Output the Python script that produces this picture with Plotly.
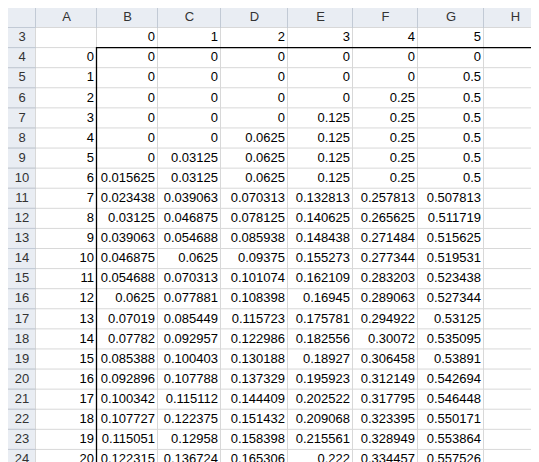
import plotly.graph_objects as go
import numpy as np

col_letters = ["", "A", "B", "C", "D", "E", "F", "G", "H"]
row_numbers = [str(i) for i in range(3, 25)]
col_A = [""] + [str(i) for i in range(0, 21)]
col_B = ["0", "0", "0", "0", "0", "0", "0", "0.015625", "0.023438", "0.03125", "0.039063", "0.046875", "0.054688", "0.0625", "0.07019", "0.07782", "0.085388", "0.092896", "0.100342", "0.107727", "0.115051", "0.122315"]
col_C = ["1", "0", "0", "0", "0", "0", "0.03125", "0.03125", "0.039063", "0.046875", "0.054688", "0.0625", "0.070313", "0.077881", "0.085449", "0.092957", "0.100403", "0.107788", "0.115112", "0.122375", "0.12958", "0.136724"]
col_D = ["2", "0", "0", "0", "0", "0.0625", "0.0625", "0.0625", "0.070313", "0.078125", "0.085938", "0.09375", "0.101074", "0.108398", "0.115723", "0.122986", "0.130188", "0.137329", "0.144409", "0.151432", "0.158398", "0.165306"]
col_E = ["3", "0", "0", "0", "0.125", "0.125", "0.125", "0.125", "0.132813", "0.140625", "0.148438", "0.155273", "0.162109", "0.16945", "0.175781", "0.182556", "0.18927", "0.195923", "0.202522", "0.209068", "0.215561", "0.222"]
col_F = ["4", "0", "0", "0.25", "0.25", "0.25", "0.25", "0.25", "0.257813", "0.265625", "0.271484", "0.277344", "0.283203", "0.289063", "0.294922", "0.30072", "0.306458", "0.312149", "0.317795", "0.323395", "0.328949", "0.334457"]
col_G = ["5", "0", "0.5", "0.5", "0.5", "0.5", "0.5", "0.5", "0.507813", "0.511719", "0.515625", "0.519531", "0.523438", "0.527344", "0.53125", "0.535095", "0.53891", "0.542694", "0.546448", "0.550171", "0.553864", "0.557526"]
col_H = ["6"] + ["1"] * 21
data_cols = [col_A, col_B, col_C, col_D, col_E, col_F, col_G, col_H]

col_widths_px = [28, 61, 61, 63, 67, 65, 65, 66, 63]
W, H = 539, 462
header_h = 20
n_rows = len(row_numbers)
row_h = (H - header_h) / n_rows

xe = np.concatenate([[0], np.cumsum(col_widths_px)])
ye = header_h + row_h * np.arange(n_rows + 1)
ye = np.concatenate([[0], ye])
yc = (ye[1:-1] + ye[2:]) / 2

hdr_fill = "#E9EDF3"
grid = "#D8D8D8"
hdr_line = "#C2CAD5"
font = dict(family="Liberation Sans", size=13, color="black")

fig = go.Figure()
shapes = []
# header fills
shapes.append(dict(type="rect", x0=0, x1=W, y0=0, y1=header_h, fillcolor=hdr_fill, line_width=0, layer="below"))
shapes.append(dict(type="rect", x0=0, x1=xe[1], y0=0, y1=H, fillcolor=hdr_fill, line_width=0, layer="below"))
# grid lines
for x in xe[1:]:
    shapes.append(dict(type="line", x0=x - 0.5, x1=x - 0.5, y0=0, y1=H, line=dict(color=grid, width=1)))
for y in ye[1:]:
    shapes.append(dict(type="line", x0=0, x1=W, y0=y - 0.5, y1=y - 0.5, line=dict(color=grid, width=1)))
# header separators
for x in xe[1:]:
    shapes.append(dict(type="line", x0=x - 0.5, x1=x - 0.5, y0=0, y1=header_h, line=dict(color=hdr_line, width=1)))
for y in ye[1:]:
    shapes.append(dict(type="line", x0=0, x1=xe[1], y0=y - 0.5, y1=y - 0.5, line=dict(color=hdr_line, width=1)))
# selection box around B4:H24
shapes.append(dict(type="rect", x0=xe[2] - 0.5, x1=W - 1, y0=ye[2] - 0.5, y1=H - 1,
                   line=dict(color="black", width=1.3)))

# column letters
fig.add_trace(go.Scatter(x=(xe[1:-1] + xe[2:]) / 2, y=[header_h / 2] * 8, mode="text",
                         text=col_letters[1:], textposition="middle center",
                         textfont=dict(family="Liberation Sans", size=13, color="#333")))
# row numbers
fig.add_trace(go.Scatter(x=[xe[1] / 2] * n_rows, y=yc, mode="text", text=row_numbers,
                         textposition="middle center",
                         textfont=dict(family="Liberation Sans", size=13, color="#333")))
# data columns (right aligned)
for i, col in enumerate(data_cols):
    fig.add_trace(go.Scatter(x=[xe[i + 2] - 3] * n_rows, y=yc, mode="text", text=col,
                             textposition="middle left", textfont=font))

fig.update_layout(width=W, height=H, margin=dict(l=0, r=0, t=0, b=0),
                  paper_bgcolor="white", plot_bgcolor="white", showlegend=False,
                  shapes=shapes,
                  xaxis=dict(range=[0, W], visible=False, fixedrange=True),
                  yaxis=dict(range=[H, 0], visible=False, fixedrange=True))
fig.write_html("out.html")
